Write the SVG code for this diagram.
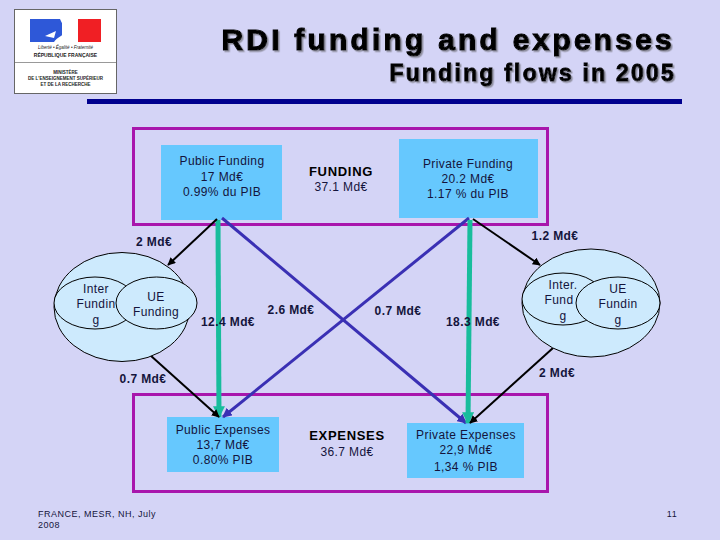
<svg xmlns="http://www.w3.org/2000/svg" width="720" height="540" viewBox="0 0 720 540">
<defs>
<marker id="ab" viewBox="0 0 10 10" refX="9" refY="5" markerWidth="4" markerHeight="4" orient="auto"><path d="M0 0L10 5L0 10z" fill="#000"/></marker>
<marker id="ab2" viewBox="0 0 10 10" refX="9" refY="5" markerWidth="3.200" markerHeight="3.200" orient="auto"><path d="M0 0L10 5L0 10z" fill="#3a30b4"/></marker>
<marker id="ag" viewBox="0 0 10 10" refX="9" refY="5" markerWidth="2.400" markerHeight="2.400" orient="auto"><path d="M0 0L10 5L0 10z" fill="#18bd9c"/></marker>
<filter id="sh" x="-5%" y="-20%" width="110%" height="150%"><feDropShadow dx="1.500" dy="1.500" stdDeviation=".5" flood-color="#8f8f9f"/></filter>
</defs>
<style>
text{font-family:"Liberation Sans",Arial,sans-serif;fill:#14143c}
.n{font-size:12px;text-anchor:middle;letter-spacing:.4px}
.h{font-size:13px;font-weight:bold;text-anchor:middle;letter-spacing:.7px;fill:#000}
.v{font-size:12px;font-weight:bold;text-anchor:middle;letter-spacing:.4px}
.e{fill:#cdeafd;stroke:#000;stroke-width:1}
.b{fill:#66c8fe}
.f{fill:none;stroke:#a816ac;stroke-width:3}
.k{stroke:#000;stroke-width:2;fill:none;marker-end:url(#ab)}
.p{stroke:#3a30b4;stroke-width:3;fill:none;marker-end:url(#ab2)}
.g{stroke:#18bd9c;stroke-width:5;fill:none;marker-end:url(#ag)}
.t{font-weight:bold;text-anchor:end;fill:#000;stroke:#000;filter:url(#sh)}
.l{font-size:4.500px;text-anchor:middle;font-weight:bold;fill:#222}
.ft{font-size:9px;letter-spacing:.5px}
</style>
<rect width="720" height="540" fill="#d4d4f6"/>
<g id="logo">
<rect x="14.500" y="9.500" width="102" height="84" fill="#fff" stroke="#666"/>
<rect x="30" y="19" width="32" height="23" fill="#2e58d8"/>
<rect x="76" y="19" width="25" height="23" fill="#f01f24"/>
<path d="M60 19H78V42H54C57 37 64 35 67 31C64 26 62 24 60 19Z" fill="#fff"/>
<path d="M45 36L56 31L54 38Z" fill="#fff"/>
<rect x="15" y="62" width="101" height="1" fill="#999"/>
<text x="65.500" y="49" class="l" style="font-style:italic;font-weight:normal">Liberté • Égalité • Fraternité</text>
<text x="65.500" y="57" class="l" style="font-size:5px">RÉPUBLIQUE FRANÇAISE</text>
<text x="65.500" y="74" class="l">MINISTÈRE</text>
<text x="65.500" y="80" class="l">DE L'ENSEIGNEMENT SUPÉRIEUR</text>
<text x="65.500" y="86" class="l">ET DE LA RECHERCHE</text>
</g>
<g id="title">
<text x="675" y="50" font-size="30" class="t" style="letter-spacing:3.200px;stroke-width:1.100px">RDI funding and expenses</text>
<text x="676" y="81" font-size="23" class="t" style="letter-spacing:2.200px;stroke-width:.9px">Funding flows in 2005</text>
<rect x="87" y="99" width="595" height="5" fill="#00008e"/>
</g>
<g id="frames">
<rect class="f" x="133.500" y="128.500" width="414" height="96"/>
<rect class="f" x="133.500" y="394.500" width="414" height="97"/>
</g>
<g id="public-funding"><rect class="b" x="161" y="145" width="121" height="75"/>
<text class="n" x="222" y="165">Public Funding</text><text class="n" x="222" y="181">17  Md€</text><text class="n" x="222" y="196">0.99% du PIB</text></g>
<g id="private-funding"><rect class="b" x="399" y="139" width="139" height="79"/>
<text class="n" x="468" y="168">Private Funding</text><text class="n" x="468" y="183">20.2 Md€</text><text class="n" x="468" y="198">1.17 % du PIB</text></g>
<g id="funding"><text class="h" x="341" y="176">FUNDING</text><text class="n" x="341" y="191">37.1 Md€</text></g>
<g id="public-expenses"><rect class="b" x="167" y="417" width="112" height="55"/>
<text class="n" x="223" y="434">Public Expenses</text><text class="n" x="223" y="449">13,7 Md€</text><text class="n" x="223" y="464">0.80% PIB</text></g>
<g id="private-expenses"><rect class="b" x="407" y="423" width="117" height="55"/>
<text class="n" x="466" y="439">Private Expenses</text><text class="n" x="466" y="454">22,9 Md€</text><text class="n" x="466" y="471">1,34 % PIB</text></g>
<g id="expenses"><text class="h" x="347" y="440">EXPENSES</text><text class="n" x="347" y="456">36.7 Md€</text></g>
<g id="connectors">
<path class="p" d="M222 218L466 423"/>
<path class="p" d="M469 218L223 417"/>
<path class="g" d="M218 220L219 417"/>
<path class="g" d="M470 220L468 423"/>
<path class="k" d="M217 219L168 265"/>
<path class="k" d="M473 219L540 265"/>
<path class="k" d="M150 355L219 417"/>
<path class="k" d="M553 348L470 423"/>
</g>
<g id="left-circle">
<ellipse class="e" cx="122" cy="307" rx="68" ry="54.500"/>
<ellipse class="e" cx="95" cy="303" rx="41" ry="26"/>
<ellipse class="e" cx="156.500" cy="303" rx="40.500" ry="26"/>
<text class="n" x="96" y="293">Inter</text><text class="n" x="96" y="308">Fundin</text><text class="n" x="96" y="324">g</text>
<text class="n" x="156" y="301">UE</text><text class="n" x="156" y="316">Funding</text>
</g>
<g id="right-circle">
<ellipse class="e" cx="591" cy="303" rx="69" ry="54"/>
<ellipse class="e" cx="563" cy="299" rx="41" ry="26"/>
<ellipse class="e" cx="618" cy="303" rx="42" ry="26"/>
<text class="n" x="563" y="289">Inter.</text><text class="n" x="559" y="304">Fund</text><text class="n" x="563" y="320">g</text>
<text class="n" x="618" y="293">UE</text><text class="n" x="618" y="308">Fundin</text><text class="n" x="618" y="324">g</text>
</g>
<g id="labels">
<text class="v" x="154" y="246">2 Md€</text>
<text class="v" x="555" y="240">1.2 Md€</text>
<text class="v" x="228" y="326">12.4 Md€</text>
<text class="v" x="291" y="314">2.6 Md€</text>
<text class="v" x="398" y="315">0.7 Md€</text>
<text class="v" x="473" y="326">18.3 Md€</text>
<text class="v" x="143" y="383">0.7 Md€</text>
<text class="v" x="557" y="377">2 Md€</text>
</g>
<g id="footer">
<text class="ft" x="38" y="517">FRANCE, MESR, NH, July</text>
<text class="ft" x="38" y="528">2008</text>
<text class="ft" x="672" y="517" text-anchor="middle">11</text>
</g>
</svg>
